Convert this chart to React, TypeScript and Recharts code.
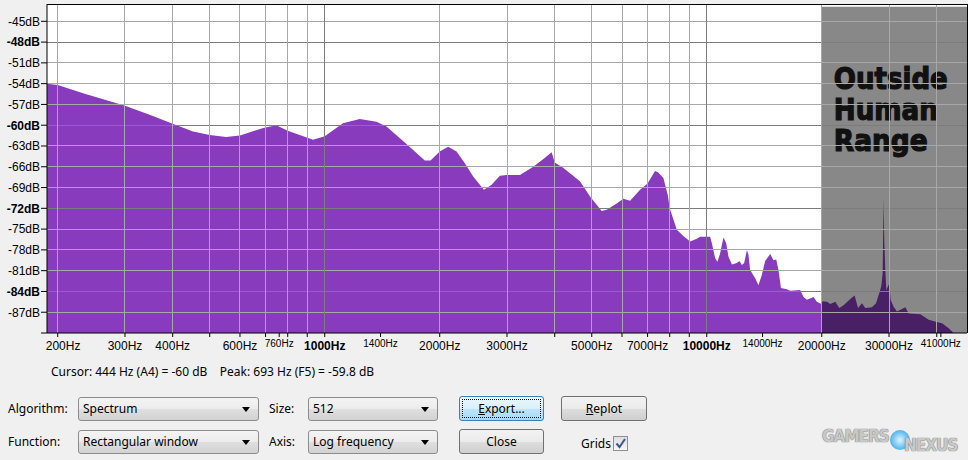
import React from 'react';
import { AreaChart, Area, XAxis, YAxis, CartesianGrid, ReferenceLine, ReferenceArea } from 'recharts';

// spectrum (log frequency axis)
const FREQ_HZ = [
  187.5, 200, 233, 300, 348, 400, 452, 500, 552, 600, 690, 747, 800, 860, 932, 1000,
  1116, 1235, 1366, 1451, 1637, 1828, 1892, 2000, 2104, 2214, 2327, 2447, 2610, 2734, 2874, 3000,
  3243, 3514, 3750, 3926, 4000, 4200, 4656, 4948, 5310, 5472, 5812, 6048, 6300, 6690, 7000, 7321,
  7450, 7698, 7908, 8000, 8348, 8686, 9044, 9420, 9608, 10206, 10310, 10520, 10666, 10840, 11060, 11240,
  11400, 11640, 11990, 12180, 12360, 12530, 12740, 12860, 12990, 13390, 13660, 13940, 14220, 14660, 14950, 15200,
  15410, 15640, 16210, 16540, 17560, 17920, 18290, 19040, 19420, 19950, 20090, 20640, 21060, 21700, 22230, 22810,
  23750, 24380, 24890, 25490, 26000, 27070, 27740, 28300, 28640, 28870, 29040, 29160, 29340, 29520, 30060, 30290,
  30840, 31480, 33100, 33780, 36240, 38100, 40000, 41300, 42980, 43880, 44200,
];
const LEVEL_DB = [
  -54.0, -54.2, -55.4, -57.2, -58.5, -59.8, -60.9, -61.4, -61.7, -61.5, -60.4, -60.0, -60.8, -61.4, -62.1, -61.6,
  -59.7, -59.1, -59.5, -60.2, -62.7, -65.1, -65.1, -63.8, -63.1, -63.8, -65.5, -67.4, -69.3, -68.6, -67.3, -67.2,
  -67.2, -66.0, -64.8, -63.9, -65.4, -66.1, -68.1, -70.3, -72.4, -72.2, -71.3, -70.6, -70.9, -69.3, -68.4, -66.6,
  -66.8, -67.6, -70.1, -72.0, -75.1, -76.0, -76.8, -76.4, -76.1, -76.1, -77.0, -79.2, -79.7, -78.5, -76.2, -77.0,
  -79.0, -80.1, -79.9, -79.6, -80.2, -79.9, -78.0, -78.7, -80.9, -82.1, -83.1, -81.6, -79.6, -78.6, -79.5, -79.4,
  -80.9, -83.5, -83.7, -83.9, -83.8, -84.8, -85.2, -84.8, -85.5, -85.8, -85.4, -85.5, -85.8, -85.5, -86.4, -86.0,
  -85.1, -84.6, -86.4, -85.7, -86.4, -86.3, -85.7, -84.2, -83.2, -81.4, -70.5, -76.8, -81.1, -83.8, -82.8, -85.2,
  -86.2, -86.9, -86.3, -87.2, -87.3, -88.1, -88.4, -88.6, -89.3, -89.8, -90.0,
];

const FREQ_LABELS = [200, 300, 400, 600, 760, 1000, 1400, 2000, 3000, 5000, 7000, 10000, 14000, 20000, 30000, 41000];
const SMALL_LABELS = [760, 1400, 14000, 41000];
const BOLD_LABELS = [1000, 10000];
const FREQ_GRID = [200, 300, 400, 500, 600, 700, 800, 900, 1000, 2000, 3000, 4000, 5000, 6000, 7000, 8000, 9000, 10000, 20000, 30000, 40000];
const DARK_FREQ_GRID = [1000, 10000];
const DB_TICKS = [-90, -87, -84, -81, -78, -75, -72, -69, -66, -63, -60, -57, -54, -51, -48, -45];
const DARK_DB = [-48, -60, -72, -84];
const RANGE_NOTE = ['Outside', 'Human', 'Range'];

const F_MIN = 187.5;
const F_MAX = 48000;
const DB_MIN = -90;
const DB_MAX = -42.5;
const HUMAN_LIMIT = 20000;

const spectrum = FREQ_HZ.map((f, i) => ({ f, db: LEVEL_DB[i] }));
const xTicks = Array.from(new Set([...FREQ_GRID, ...FREQ_LABELS])).sort((a, b) => a - b);

const AXIS_FONT = '"Liberation Sans", Arial, sans-serif';
const UI_FONT = '"Noto Sans", "DejaVu Sans", sans-serif';

function FreqTick(props: any) {
  const { x, y, payload } = props;
  const v = payload.value;
  if (!FREQ_LABELS.includes(v)) return null;
  const small = SMALL_LABELS.includes(v);
  const first = v === FREQ_LABELS[0];
  return (
    <text
      x={first ? x - 12 : x}
      y={y}
      dy={small ? '0.55em' : '0.71em'}
      textAnchor={first ? 'start' : 'middle'}
      fontFamily={AXIS_FONT}
      fontSize={small ? 10 : 12}
      fontWeight={BOLD_LABELS.includes(v) ? 'bold' : 'normal'}
      fill="#000"
    >
      {v}Hz
    </text>
  );
}

function DbTick(props: any) {
  const { x, y, payload } = props;
  const v = payload.value;
  if (v === DB_MIN) return null;
  return (
    <text
      x={x}
      y={y}
      dy="0.36em"
      textAnchor="end"
      fontFamily={AXIS_FONT}
      fontSize={12}
      fontWeight={DARK_DB.includes(v) ? 'bold' : 'normal'}
      fill="#000"
    >
      {v}dB
    </text>
  );
}

function OutsideLabel(props: any) {
  const vb = props.viewBox;
  if (!vb) return null;
  const widths = [114, 104, 94];
  return (
    <g>
      {RANGE_NOTE.map((t, i) => (
        <text
          key={t}
          x={vb.x + 12}
          y={vb.y + 82 + i * 31}
          textLength={widths[i]}
          lengthAdjust="spacingAndGlyphs"
          fontFamily='"DejaVu Sans Condensed", "DejaVu Sans", sans-serif'
          fontWeight="bold"
          fontSize={31}
          fill="#111"
          stroke="#111"
          strokeWidth={1.2}
        >
          {t}
        </text>
      ))}
    </g>
  );
}

function Combo({ x, y, w, text }: { x: number; y: number; w: number; text: string }) {
  return (
    <div
      style={{
        position: 'absolute', left: x, top: y, width: w, height: 22,
        border: '1px solid #8c8c8c', borderRadius: 3,
        background: 'linear-gradient(#f4f4f4, #ececec 50%, #dfdfdf 51%, #d2d2d2)',
        fontSize: 12, lineHeight: '22px', paddingLeft: 4, boxSizing: 'content-box',
      }}
    >
      {text}
      <div
        style={{
          position: 'absolute', right: 8, top: 9, width: 0, height: 0,
          borderLeft: '4px solid transparent', borderRight: '4px solid transparent', borderTop: '5px solid #000',
        }}
      />
    </div>
  );
}

function Button({ x, y, w, label, under, focused }: { x: number; y: number; w: number; label: string; under?: number; focused?: boolean }) {
  return (
    <div
      style={{
        position: 'absolute', left: x, top: y, width: w, height: 23,
        border: focused ? '1px solid #3c7fb1' : '1px solid #707070', borderRadius: 3,
        background: focused
          ? 'linear-gradient(#eaf6fd, #d9f0fc 50%, #bee6fd 51%, #a7d9f5)'
          : 'linear-gradient(#f2f2f2, #ebebeb 50%, #dddddd 51%, #cfcfcf)',
        fontSize: 12, lineHeight: '23px', textAlign: 'center',
      }}
    >
      {focused && (
        <div style={{ position: 'absolute', left: 2, top: 2, right: 2, bottom: 2, border: '1px dotted #000' }} />
      )}
      {under !== undefined ? (
        <span>
          {label.slice(0, under)}
          <u>{label.charAt(under)}</u>
          {label.slice(under + 1)}
        </span>
      ) : (
        label
      )}
    </div>
  );
}

export default function App() {
  return (
    <div
      style={{
        position: 'absolute', left: 0, top: 0, width: 968, height: 460,
        background: '#f0f0f0', overflow: 'hidden', fontFamily: UI_FONT, color: '#000',
      }}
    >
      <div style={{ position: 'absolute', left: 0, top: 0 }}>
        <AreaChart width={968} height={362} data={spectrum} margin={{ top: 4, right: 1, bottom: 2, left: 0 }}>
          <CartesianGrid horizontal={false} vertical={false} fill="#ffffff" />
          <XAxis
            dataKey="f"
            type="number"
            scale="log"
            domain={[F_MIN, F_MAX]}
            allowDataOverflow
            ticks={xTicks}
            interval={0}
            height={27}
            tickSize={4}
            tickMargin={4}
            axisLine={{ stroke: '#000' }}
            tickLine={{ stroke: '#000' }}
            tick={<FreqTick />}
          />
          <YAxis
            type="number"
            domain={[DB_MIN, DB_MAX]}
            allowDataOverflow
            ticks={DB_TICKS}
            interval={0}
            width={47}
            tickSize={6}
            tickMargin={1}
            axisLine={{ stroke: '#000' }}
            tickLine={{ stroke: '#000' }}
            tick={<DbTick />}
          />
          <Area
            type="linear"
            dataKey="db"
            baseValue={DB_MIN}
            stroke="none"
            fill="#893bbd"
            fillOpacity={1}
            dot={false}
            activeDot={false}
            isAnimationActive={false}
          />
          {DB_TICKS.filter((d) => d !== DB_MIN).map((d) => (
            <ReferenceLine
              key={'h' + d}
              y={d}
              stroke={DARK_DB.includes(d) ? '#7c7c7c' : '#a8a8a8'}
              strokeWidth={1}
              shapeRendering="crispEdges"
            />
          ))}
          {FREQ_GRID.map((f) => (
            <ReferenceLine
              key={'v' + f}
              x={f}
              stroke={DARK_FREQ_GRID.includes(f) ? '#7c7c7c' : '#a8a8a8'}
              strokeWidth={1}
              shapeRendering="crispEdges"
            />
          ))}
          <ReferenceArea
            x1={HUMAN_LIMIT}
            x2={F_MAX}
            y1={DB_MIN}
            y2={-42.9}
            fill="#000"
            fillOpacity={0.467}
            stroke="none"
            label={OutsideLabel}
          />
          <ReferenceLine y={DB_MAX} stroke="#000" shapeRendering="crispEdges" />
          <ReferenceLine x={F_MAX} stroke="#000" shapeRendering="crispEdges" />
        </AreaChart>
      </div>

      <div style={{ position: 'absolute', left: 51, top: 363, fontSize: 12, whiteSpace: 'pre' }}>
        {'Cursor: 444 Hz (A4) = -60 dB    Peak: 693 Hz (F5) = -59.8 dB'}
      </div>

      <div style={{ position: 'absolute', left: 8, top: 400, fontSize: 12 }}>Algorithm:</div>
      <Combo x={78} y={397} w={175} text="Spectrum" />
      <div style={{ position: 'absolute', left: 269, top: 400, fontSize: 12 }}>Size:</div>
      <Combo x={308} y={397} w={124} text="512" />
      <Button x={459} y={396} w={83} label="Export..." under={0} focused />
      <Button x={561} y={396} w={84} label="Replot" under={0} />

      <div style={{ position: 'absolute', left: 8, top: 433, fontSize: 12 }}>Function:</div>
      <Combo x={78} y={430} w={175} text="Rectangular window" />
      <div style={{ position: 'absolute', left: 269, top: 433, fontSize: 12 }}>Axis:</div>
      <Combo x={308} y={430} w={124} text="Log frequency" />
      <Button x={459} y={429} w={83} label="Close" />

      <div style={{ position: 'absolute', left: 581, top: 435, fontSize: 12 }}>Grids</div>
      <div
        style={{
          position: 'absolute', left: 613, top: 436, width: 13, height: 13,
          border: '1px solid #8e8f8f', background: 'linear-gradient(#dedede, #f6f6f6)',
        }}
      >
        <svg width={13} height={13} style={{ position: 'absolute', left: 0, top: 0 }}>
          <polyline points="2.5,6.5 5.5,10 11,2" fill="none" stroke="#3f5592" strokeWidth={2} />
        </svg>
      </div>

      <div style={{ position: 'absolute', left: 822, top: 426, width: 140, height: 30 }}>
        <div
          style={{
            position: 'absolute', left: 0, top: 0, fontFamily: '"DejaVu Sans Condensed", sans-serif',
            fontWeight: 'bold', fontSize: 17, color: '#c8c8c8', letterSpacing: -1,
            textShadow: '0 0 1px #777, 0 0 1px #777',
          }}
        >
          GAMERS
        </div>
        <div
          style={{
            position: 'absolute', left: 68, top: 4, width: 20, height: 20, borderRadius: 10,
            background: 'radial-gradient(#dff4ff, #4fb3ec 70%, #2e8fd0)',
          }}
        />
        <div
          style={{
            position: 'absolute', left: 82, top: 9, fontFamily: '"DejaVu Sans Condensed", sans-serif',
            fontWeight: 'bold', fontSize: 17, color: '#c8c8c8', letterSpacing: -1,
            textShadow: '0 0 1px #777, 0 0 1px #777',
          }}
        >
          NEXUS
        </div>
      </div>
    </div>
  );
}
